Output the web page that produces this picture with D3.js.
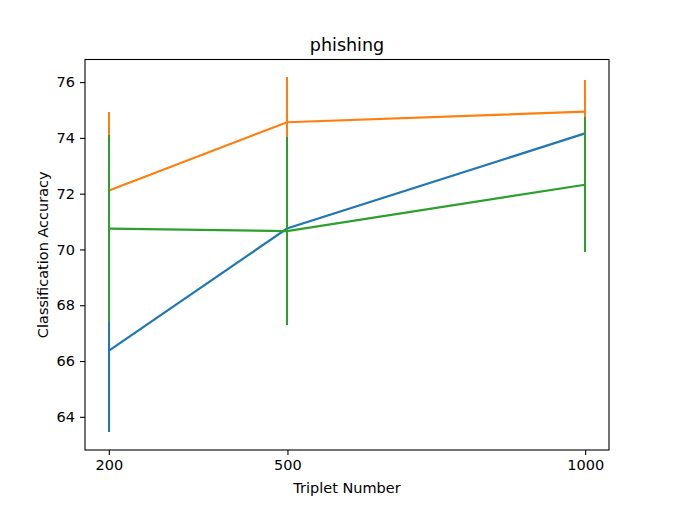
<!DOCTYPE html>
<html>
<head>
<meta charset="utf-8">
<script src="https://cdn.jsdelivr.net/npm/d3@7"></script>
<style>
  body { margin: 0; background: #fff; }
  text { font-family: "DejaVu Sans", sans-serif; fill: #000; }
</style>
</head>
<body>
<div id="chart"></div>
<script>
// Triplet numbers on the x axis
const triplets = [200, 500, 1000];
const xTicks = [200, 500, 1000];
const yTicks = [64, 66, 68, 70, 72, 74, 76];

// Mean accuracy and error (one series per colour, drawn in this order)
const blueMean = [66.37, 70.75, 74.16];
const blueErr = [2.92, 1.5, 0.9];
const orangeMean = [72.11, 74.56, 74.94];
const orangeErr = [2.83, 1.61, 1.13];
const greenMean = [70.75, 70.66, 72.32];
const greenErr = [3.34, 3.38, 2.42];

const series = [
    { mean: blueMean, err: blueErr, color: "#1f77b4" },
    { mean: orangeMean, err: orangeErr, color: "#ff7f0e" },
    { mean: greenMean, err: greenErr, color: "#2ca02c" }
];

const W = 676, H = 507;
const margin = { top: 59.5, right: 67, bottom: 57, left: 85 };
const width = W - margin.left - margin.right,
    height = H - margin.top - margin.bottom;

const svg = d3.select("#chart").append("svg")
    .attr("width", W).attr("height", H);

const chart = svg.append("g")
    .attr("transform", `translate(${margin.left},${margin.top})`);

const x = d3.scaleLinear().domain([160, 1040]).range([0, width]);
const y = d3.scaleLinear().domain([62.81, 76.81]).range([height, 0]);

// Lines + vertical error bars
series.forEach(s => {
    const pts = triplets.map((t, i) => ({ t, m: s.mean[i], e: s.err[i] }));
    chart.selectAll(null)
        .data(pts)
        .enter()
        .append("line")
        .attr("x1", d => Math.round(x(d.t))).attr("x2", d => Math.round(x(d.t)))
        .attr("y1", d => y(d.m - d.e)).attr("y2", d => y(d.m + d.e))
        .attr("stroke", s.color)
        .attr("stroke-width", 2.2)
        .attr("shape-rendering", "crispEdges");
    chart.append("path")
        .datum(pts)
        .attr("fill", "none")
        .attr("stroke", s.color)
        .attr("stroke-width", 2.2)
        .attr("d", d3.line().x(d => Math.round(x(d.t))).y(d => y(d.m)));
});

// Axes
const xAxis = chart.append("g")
    .attr("transform", `translate(0,${height})`)
    .call(d3.axisBottom(x).tickValues(xTicks).tickFormat(d3.format("d"))
        .tickSize(5).tickPadding(5));
const yAxis = chart.append("g")
    .call(d3.axisLeft(y).tickValues(yTicks).tickFormat(d3.format("d"))
        .tickSize(5).tickPadding(5));

[xAxis, yAxis].forEach(a => {
    a.select(".domain").remove();
    a.selectAll(".tick line").attr("stroke", "#000").attr("stroke-width", 1.1);
    a.selectAll(".tick text")
        .style("font-family", "DejaVu Sans")
        .style("font-size", "14.5px");
});

// Frame
chart.append("rect")
    .attr("width", width).attr("height", height)
    .attr("fill", "none")
    .attr("stroke", "#000")
    .attr("stroke-width", 1.1);

// Title and labels
svg.append("text")
    .attr("x", margin.left + width / 2)
    .attr("y", margin.top - 9)
    .attr("text-anchor", "middle")
    .style("font-size", "17.5px")
    .text("phishing");

svg.append("text")
    .attr("x", margin.left + width / 2)
    .attr("y", 493)
    .attr("text-anchor", "middle")
    .style("font-size", "14.5px")
    .text("Triplet Number");

svg.append("text")
    .attr("transform", `translate(48,${margin.top + height / 2}) rotate(-90)`)
    .attr("text-anchor", "middle")
    .style("font-size", "14.5px")
    .text("Classification Accuracy");
</script>
</body>
</html>
